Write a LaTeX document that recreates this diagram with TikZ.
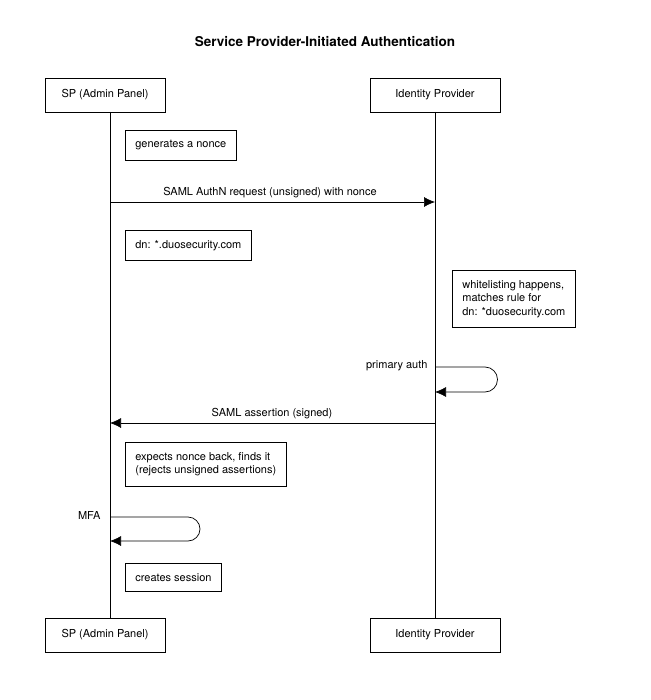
\documentclass[tikz,border=0pt]{standalone}
\usepackage{fontspec}
\setmainfont{TeX Gyre Heros}
\usetikzlibrary{arrows.meta,positioning}
\tikzstyle{actor}=[draw,line width=0.7pt,minimum height=34pt,inner sep=0pt]
\tikzstyle{note}=[draw,line width=0.7pt,align=left,anchor=north west,inner xsep=10pt,inner ysep=10pt]
\tikzstyle{life}=[line width=0.7pt]
\tikzstyle{msg}=[line width=0.7pt,-{Latex[length=11pt,width=10pt]}]
\begin{document}
\begin{tikzpicture}[x=1pt,y=-1pt,font=\fontsize{11}{13.5}\selectfont]
		\useasboundingbox (0,0) rectangle (650,700);
		\node[font=\bfseries\fontsize{13.5}{16}\selectfont] (title) at (325,42) {Service Provider-Initiated Authentication};

		\node[actor,minimum width=120pt] (sptop) at (105,95) {SP (Admin Panel)};
		\node[actor,minimum width=130pt] (idptop) at (435,95) {Identity Provider};
		\node[actor,minimum width=120pt] (spbot) at (105,635) {SP (Admin Panel)};
		\node[actor,minimum width=130pt] (idpbot) at (435,635) {Identity Provider};

		\coordinate (spl) at (110,112);
		\coordinate (idpl) at (435,112);
		\draw[life] (spl) -- (110,618);
		\draw[life] (idpl) -- (idpbot.north);

		\node[note] (nonce) at (125,130) {generates a nonce};
		\draw[msg] (110,202) coordinate (r1) -- (435,202) coordinate (r2);
		\node[above=1pt] (req) at (270,202) {SAML AuthN request (unsigned) with nonce};
		\node[note] (dn) at (125,230) {dn: *.duosecurity.com};
		\node[note] (wl) at (452,270) {whitelisting happens,\\matches rule for\\dn: *duosecurity.com};

		% self messages
		\draw[msg] (435,367) coordinate (pa) -- (485,367) arc (-90:90:12.5) -- (435,392);
		\node[anchor=south east] (palabel) at (431,374) {primary auth};
		\draw[msg] (435,423) -- (110,423);
		\node[above=1pt] (assert) at (272,423) {SAML assertion (signed)};
		\node[note] (expects) at (125,442) {expects nonce back, finds it\\(rejects unsigned assertions)};
		\draw[msg] (110,517) -- (188,517) arc (-90:90:12) -- (110,541);
		\node[anchor=south east] (mfa) at (104,523) {MFA};
		\node[note] (session) at (125,563) {creates session};
	\end{tikzpicture}
\end{document}
